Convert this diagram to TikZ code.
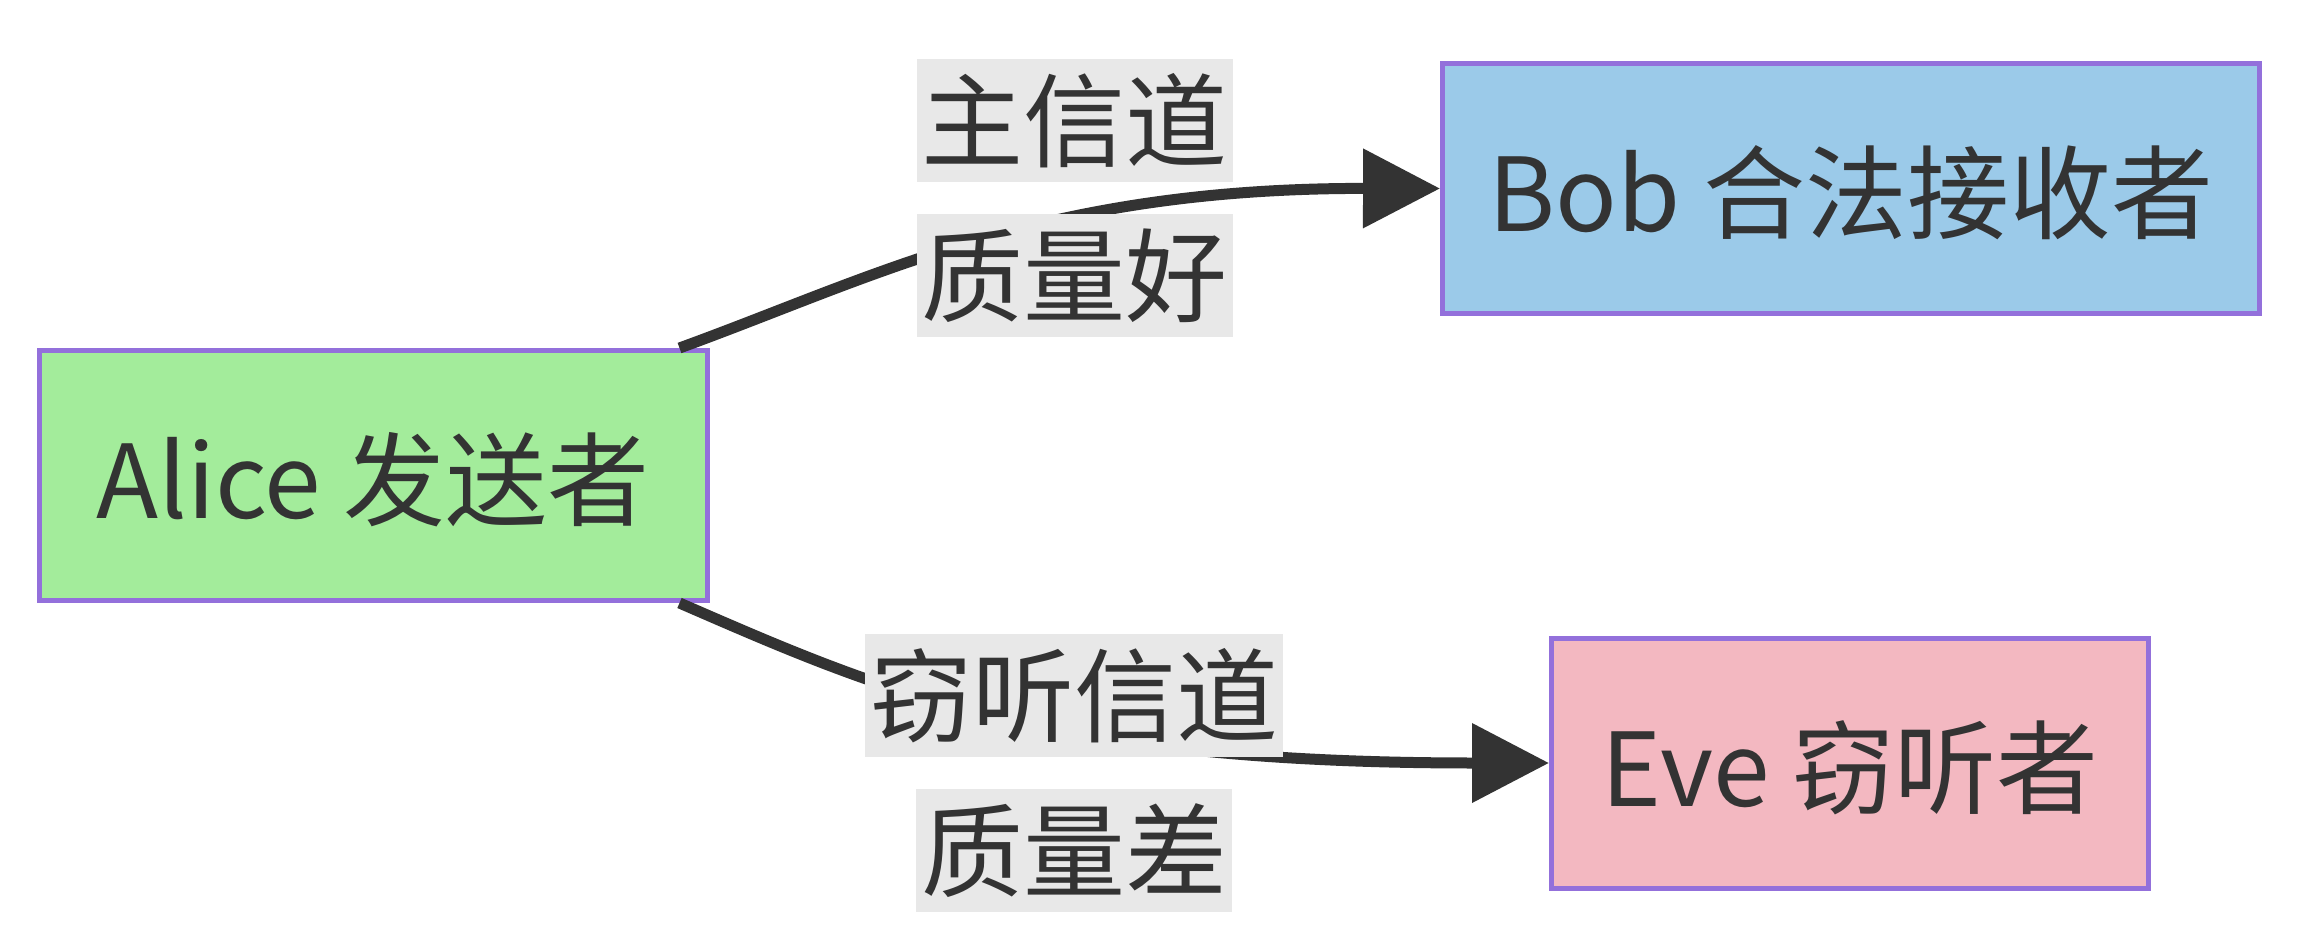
\documentclass[tikz,border=0pt]{standalone}
\usepackage{fontspec}
\setmainfont{Noto Sans CJK SC}
\usetikzlibrary{arrows.meta}
\definecolor{nodeborder}{HTML}{9370DB}
\definecolor{alicegreen}{HTML}{A3EC9B}
\definecolor{bobblue}{HTML}{9BCAE9}
\definecolor{evepink}{HTML}{F3B8C1}
\definecolor{inkgray}{HTML}{333333}
\definecolor{labelgray}{HTML}{E8E8E8}

\begin{document}
\begin{tikzpicture}[x=1pt,y=-1pt,
  party/.style={draw=nodeborder, line width=5pt, minimum height=250pt, text=inkgray, text height=88pt, text depth=2pt, font=\fontsize{102}{120}\selectfont},
  chan/.style={fill=labelgray, text=inkgray, inner xsep=5pt, inner ysep=0pt, minimum height=123pt, font=\fontsize{102}{120}\selectfont},
  link/.style={draw=inkgray, line width=11pt, -{Triangle[length=77pt,width=77pt]}}]
\useasboundingbox (0,0) rectangle (2301,939);
\node[party, fill=alicegreen, minimum width=668pt] (alice) at (373,475.5) {Alice 发送者};
\node[party, fill=bobblue, minimum width=817pt] (bob) at (1851,188.5) {Bob 合法接收者};
\node[party, fill=evepink, minimum width=597pt] (eve) at (1850,763) {Eve 窃听者};
\draw[link] ([xshift=-30pt]alice.north east) .. controls (880,275) and (1040,188) .. (bob.west);
\draw[link] ([xshift=-30pt]alice.south east) .. controls (880,690) and (1040,763) .. (eve.west);
\node[chan] (mainA) at (1074.5,120.5) {主信道};
\node[chan] (mainB) at (1074.5,275.5) {质量好};
\node[chan] (tapA) at (1074,695.5) {窃听信道};
\node[chan] (tapB) at (1074,850.5) {质量差};
\end{tikzpicture}
\end{document}
